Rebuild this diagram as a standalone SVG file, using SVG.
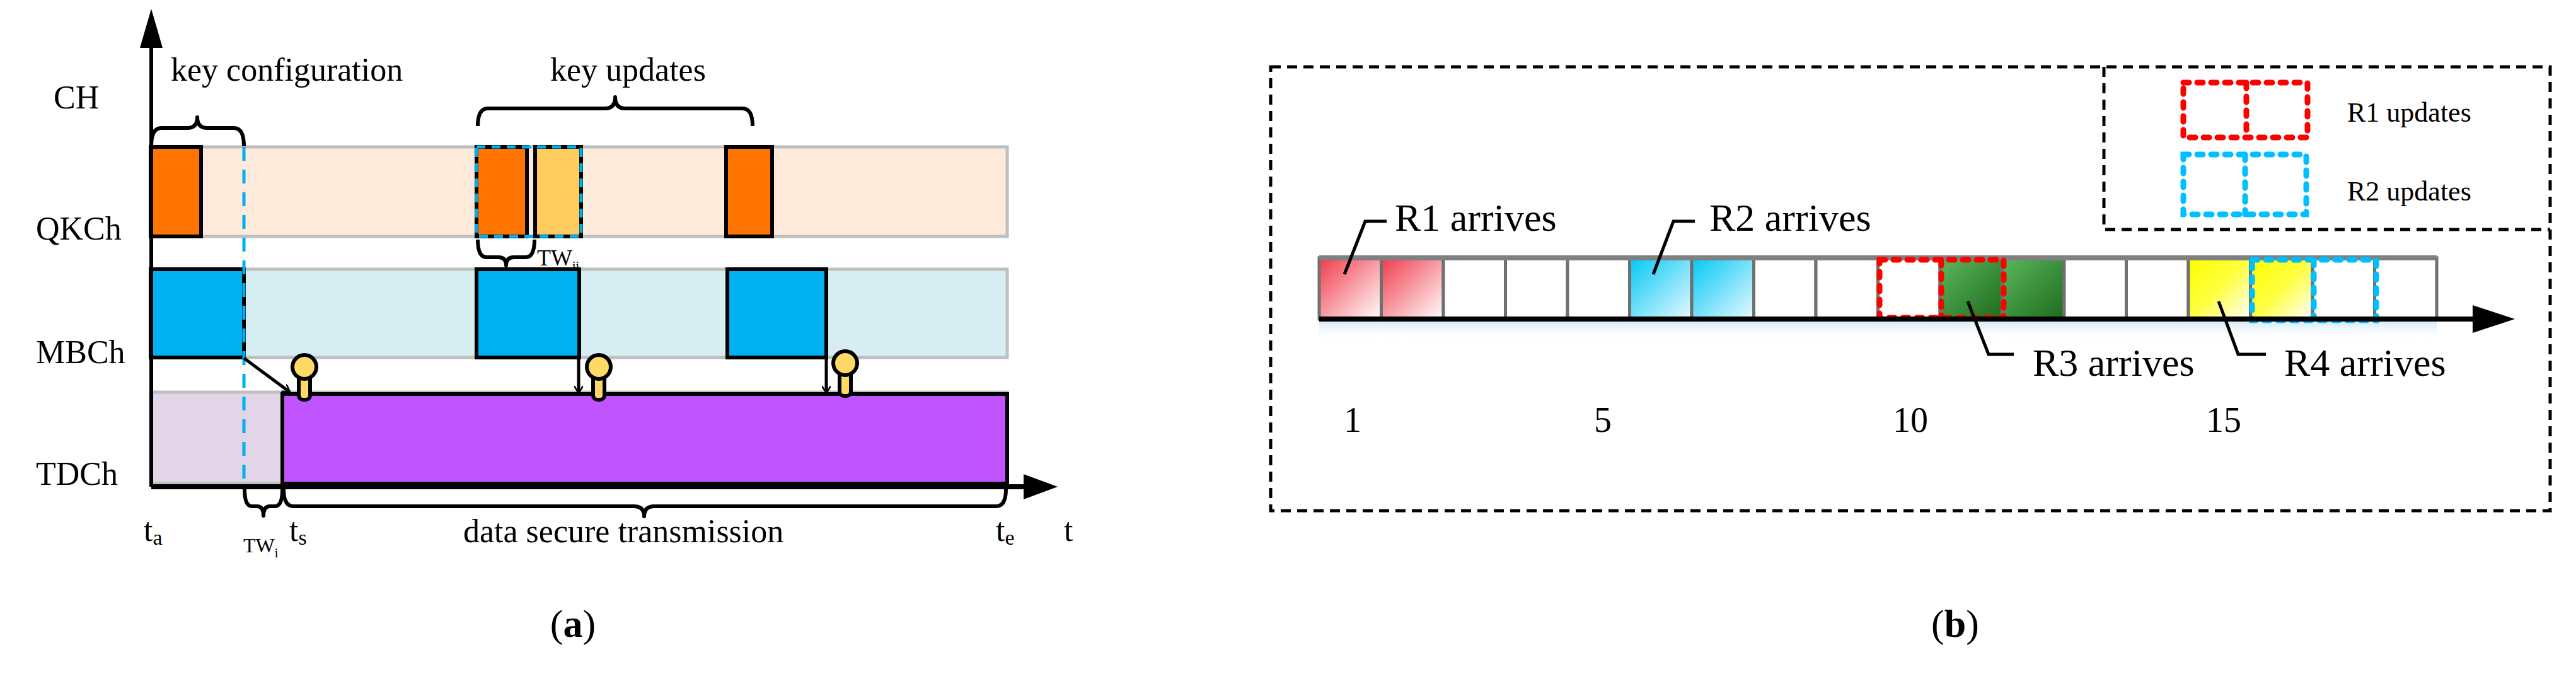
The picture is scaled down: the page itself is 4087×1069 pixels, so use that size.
<svg xmlns="http://www.w3.org/2000/svg" width="4087" height="1069" viewBox="0 0 4087 1069">
<style>
text{font-family:"Liberation Serif","Times New Roman",serif;fill:#000}
.lbl{font-size:52px}
.brace{fill:none;stroke:#000;stroke-width:6;stroke-linejoin:round}
.box{stroke:#000;stroke-width:6}
.band{stroke:#bfbfbf;stroke-width:5}
.cell{stroke:#707070;stroke-width:5}
.rd{fill:none;stroke:#ff0000;stroke-width:9;stroke-dasharray:9 13;stroke-linecap:round}
.bd{fill:none;stroke:#00bfff;stroke-width:9;stroke-dasharray:9 13;stroke-linecap:round}
.lead{fill:none;stroke:#000;stroke-width:5}
.arr{fill:none;stroke:#000;stroke-width:5}
.key{fill:#FFD966;stroke:#000;stroke-width:6}
</style>
<defs>
<marker id="ah" markerWidth="14" markerHeight="14" refX="12" refY="7" orient="auto" markerUnits="userSpaceOnUse" viewBox="0 0 14 14"><path d="M0,0 L12,7 L0,14" fill="none" stroke="#000" stroke-width="2.5"/></marker>
<linearGradient id="gr" x1="0" y1="0" x2="1" y2="1"><stop offset="0" stop-color="#f03a4a"/><stop offset="1" stop-color="#ffffff"/></linearGradient>
<linearGradient id="gc" x1="0" y1="0" x2="1" y2="1"><stop offset="0" stop-color="#00c8f5"/><stop offset="1" stop-color="#e8f9ff"/></linearGradient>
<linearGradient id="gg" x1="0" y1="0" x2="1" y2="1"><stop offset="0" stop-color="#5cb85c"/><stop offset="1" stop-color="#1d6b1d"/></linearGradient>
<linearGradient id="gy" x1="0" y1="0" x2="1" y2="1"><stop offset="0" stop-color="#ffff00"/><stop offset="0.5" stop-color="#ffff40"/><stop offset="1" stop-color="#ffffff"/></linearGradient>
<linearGradient id="gs" x1="0" y1="0" x2="0" y2="1"><stop offset="0" stop-color="#b8dcf0" stop-opacity="0.7"/><stop offset="1" stop-color="#ffffff" stop-opacity="0"/></linearGradient>
<g id="keyshape"><rect class="key" x="-9" y="0" width="18" height="52" rx="7"/><circle class="key" cx="0" cy="0" r="19"/></g>
</defs>

<g id="bands">
<rect class="band" x="239" y="233" width="1359" height="142" fill="#FDEADA"/>
<rect class="band" x="239" y="427" width="1359" height="140" fill="#D6EDF2"/>
<rect class="band" x="239" y="622" width="1359" height="145" fill="#E1D5E7"/>
</g>
<g id="qkch-boxes">
<rect class="box" x="239" y="233" width="80" height="142" fill="#FF7300"/>
<rect class="box" x="756" y="233" width="80" height="142" fill="#FF7300"/>
<rect class="box" x="849" y="233" width="73" height="142" fill="#FFCC5E"/>
<rect x="756" y="233" width="166" height="142" fill="none" stroke="#00B0F0" stroke-width="5" stroke-dasharray="14 10"/>
<rect class="box" x="1152" y="233" width="73" height="142" fill="#FF7300"/>
</g>
<g id="mbch-boxes">
<rect class="box" x="239" y="427" width="148" height="140" fill="#00B0F0"/>
<rect class="box" x="756" y="427" width="163" height="140" fill="#00B0F0"/>
<rect class="box" x="1154" y="427" width="157" height="140" fill="#00B0F0"/>
</g>
<g id="tdch-box">
<rect class="box" x="448" y="625" width="1150" height="142" fill="#C055FF"/>
</g>
<g id="connectors">
<line x1="387" y1="233" x2="387" y2="772" stroke="#00B0F0" stroke-width="5" stroke-dasharray="22 14"/>
<line class="arr" x1="387" y1="568" x2="460" y2="622" marker-end="url(#ah)"/>
<line class="arr" x1="918" y1="568" x2="918" y2="624" marker-end="url(#ah)"/>
<line class="arr" x1="1311" y1="568" x2="1311" y2="624" marker-end="url(#ah)"/>
</g>
<g id="keys">
<use href="#keyshape" x="483" y="582"/>
<use href="#keyshape" x="950" y="582"/>
<use href="#keyshape" x="1341" y="576"/>
</g>
<g id="axes">
<line x1="240" y1="60" x2="240" y2="772" stroke="#000" stroke-width="6"/>
<polygon points="240,14 222,76 258,76" fill="#000"/>
<line x1="240" y1="772" x2="1630" y2="772" stroke="#000" stroke-width="8"/>
<polygon points="1624,752 1678,772 1624,792" fill="#000"/>
</g>
<g id="braces">
<path class="brace" d="M240,232 Q240,203 256,203 L297,203 Q313,203 313,186 Q313,203 329,203 L371,203 Q387,203 387,232"/>
<path class="brace" d="M758,200 Q758,172 774,172 L960,172 Q976,172 976,154 Q976,172 992,172 L1178,172 Q1194,172 1194,200"/>
<path class="brace" d="M758,380 Q758,408 772,408 L791,408 Q803,408 803,421 Q803,408 815,408 L834,408 Q848,408 848,380"/>
<path class="brace" d="M388,776 Q388,803 400,803 L408,803 Q418,803 418,818 Q418,803 428,803 L436,803 Q448,803 448,776"/>
<path class="brace" d="M450,776 Q450,803 466,803 L1006,803 Q1022,803 1022,819 Q1022,803 1038,803 L1580,803 Q1596,803 1596,776"/>
</g>
<g id="labels-a">
<text class="lbl" x="85" y="172">CH</text>
<text class="lbl" x="57" y="380">QKCh</text>
<text class="lbl" x="57" y="576">MBCh</text>
<text class="lbl" x="57" y="769">TDCh</text>
<text class="lbl" x="271" y="128">key configuration</text>
<text class="lbl" x="873" y="128">key updates</text>
<text x="852" y="421" font-size="36">TW<tspan font-size="20" dy="8">ii</tspan></text>
<text class="lbl" x="228" y="858">t<tspan font-size="34" dy="6">a</tspan></text>
<text x="386" y="876" font-size="32">TW<tspan font-size="20" dy="8">i</tspan></text>
<text class="lbl" x="459" y="858">t<tspan font-size="34" dy="6">s</tspan></text>
<text class="lbl" x="735" y="860">data secure transmission</text>
<text class="lbl" x="1580" y="858">t<tspan font-size="34" dy="6">e</tspan></text>
<text class="lbl" x="1688" y="858">t</text>
<text x="909" y="1010" font-size="62" text-anchor="middle">(<tspan font-weight="bold">a</tspan>)</text>
</g>

<g id="frame-b">
<rect x="2016" y="106" width="2030" height="704" fill="none" stroke="#000" stroke-width="5" stroke-dasharray="16 10"/>
</g>
<g id="legend">
<path d="M3338,106 L3338,364 L4046,364" fill="none" stroke="#000" stroke-width="5" stroke-dasharray="16 10"/>
<rect class="rd" x="3464" y="131" width="197" height="87"/>
<line class="rd" x1="3564" y1="131" x2="3564" y2="218"/>
<rect class="bd" x="3464" y="245" width="195" height="95"/>
<line class="bd" x1="3562" y1="245" x2="3562" y2="340"/>
<text x="3724" y="193" font-size="44">R1 updates</text>
<text x="3724" y="318" font-size="44">R2 updates</text>
</g>
<g id="strip">
<rect x="2093" y="506" width="1773" height="36" fill="url(#gs)"/>
<rect class="cell" x="2093" y="409" width="98.5" height="97" fill="url(#gr)"/>
<rect class="cell" x="2191.5" y="409" width="98.5" height="97" fill="url(#gr)"/>
<rect class="cell" x="2290" y="409" width="98.5" height="97" fill="#fff"/>
<rect class="cell" x="2388.5" y="409" width="98.5" height="97" fill="#fff"/>
<rect class="cell" x="2487" y="409" width="98.5" height="97" fill="#fff"/>
<rect class="cell" x="2585.5" y="409" width="98.5" height="97" fill="url(#gc)"/>
<rect class="cell" x="2684" y="409" width="98.5" height="97" fill="url(#gc)"/>
<rect class="cell" x="2782.5" y="409" width="98.5" height="97" fill="#fff"/>
<rect class="cell" x="2881" y="409" width="98.5" height="97" fill="#fff"/>
<rect class="cell" x="2979.5" y="409" width="98.5" height="97" fill="#fff"/>
<rect class="cell" x="3078" y="409" width="98.5" height="97" fill="url(#gg)"/>
<rect class="cell" x="3176.5" y="409" width="98.5" height="97" fill="url(#gg)"/>
<rect class="cell" x="3275" y="409" width="98.5" height="97" fill="#fff"/>
<rect class="cell" x="3373.5" y="409" width="98.5" height="97" fill="#fff"/>
<rect class="cell" x="3472" y="409" width="98.5" height="97" fill="url(#gy)"/>
<rect class="cell" x="3570.5" y="409" width="98.5" height="97" fill="url(#gy)"/>
<rect class="cell" x="3669" y="409" width="98.5" height="97" fill="#fff"/>
<rect class="cell" x="3767.5" y="409" width="98.5" height="97" fill="#fff"/>
<line x1="2093" y1="409" x2="3866" y2="409" stroke="#808080" stroke-width="8"/>
<rect class="rd" x="2982" y="412" width="197" height="92"/>
<line class="rd" x1="3080" y1="412" x2="3080" y2="504"/>
<rect class="bd" x="3573" y="412" width="197" height="96"/>
<line class="bd" x1="3671" y1="412" x2="3671" y2="504"/>
<line x1="2093" y1="506" x2="3930" y2="506" stroke="#000" stroke-width="8"/>
<polygon points="3923,484 3990,506 3923,528" fill="#000"/>
</g>
<g id="leaders">
<path class="lead" d="M2133,435 L2166,351 L2200,351"/>
<path class="lead" d="M2623,435 L2655,351 L2689,351"/>
<path class="lead" d="M3122,478 L3155,562 L3195,562"/>
<path class="lead" d="M3520,478 L3551,562 L3595,562"/>
</g>
<g id="labels-b">
<text x="2213" y="366" font-size="62">R1 arrives</text>
<text x="2712" y="366" font-size="62">R2 arrives</text>
<text x="3225" y="596" font-size="62">R3 arrives</text>
<text x="3624" y="596" font-size="62">R4 arrives</text>
<text x="2146" y="685" font-size="56" text-anchor="middle">1</text>
<text x="2543" y="685" font-size="56" text-anchor="middle">5</text>
<text x="3031" y="685" font-size="56" text-anchor="middle">10</text>
<text x="3528" y="685" font-size="56" text-anchor="middle">15</text>
<text x="3102" y="1010" font-size="62" text-anchor="middle">(<tspan font-weight="bold">b</tspan>)</text>
</g>
</svg>
